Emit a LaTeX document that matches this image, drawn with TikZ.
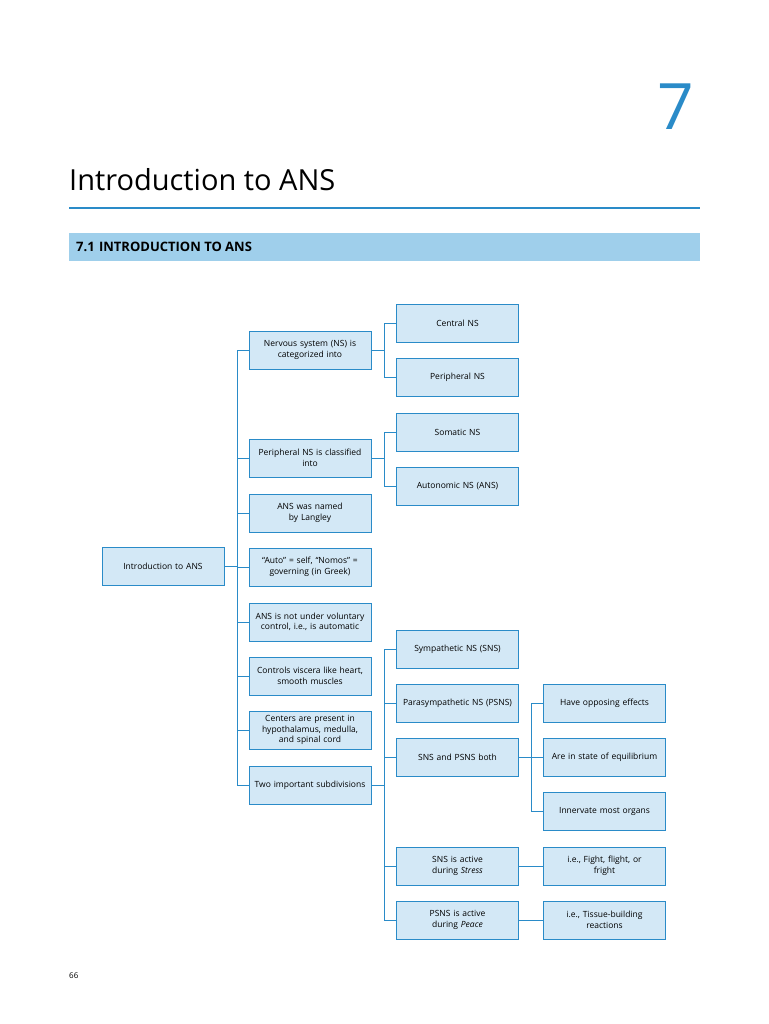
\documentclass[tikz,border=0pt]{standalone}
\usepackage{fontspec}
\setmainfont{Open Sans}
\begin{document}
\begin{tikzpicture}[x=1pt,y=-1pt,
  bx/.style={draw=bbord,fill=bfill,line width=0.8pt,minimum width=122pt,minimum height=38pt,inner sep=2pt,align=center,font=\fontsize{8.5}{10.5}\selectfont,text width=116pt},
  ln/.style={draw=bbord,line width=0.8pt}]
\definecolor{bfill}{HTML}{D3E8F6}
\definecolor{bbord}{HTML}{2A8BC8}
\definecolor{band}{HTML}{9FCFEB}
\useasboundingbox (0,0) rectangle (768,1024);
\node[anchor=base east,text=bbord,font=\fontsize{64}{64}\selectfont] (seven) at (698,130) {7};
\node[anchor=base west,inner sep=0,font=\fontsize{29}{29}\selectfont] (title) at (69,191) {Introduction to ANS};
\draw[bbord,line width=1.5pt] (69,208) -- (700,208);
\fill[band] (69,233) rectangle (700,261);
\node[anchor=west,inner sep=0,font=\bfseries\fontsize{13}{13}\selectfont] (sec) at (76,247) {7.1\,\,INTRODUCTION TO ANS};
\node[anchor=base west,inner sep=0,font=\fontsize{8}{8}\selectfont] (pg) at (69,978) {66};

\node[bx] (root) at (163,566) {Introduction to ANS};
\node[bx] (a1) at (310,350) {Nervous system (NS) is\\categorized into};
\node[bx] (a2) at (310,458) {Peripheral NS is classified\\into};
\node[bx] (a3) at (310,513) {ANS was named\\by Langley};
\node[bx] (a4) at (310,567) {“Auto” = self, “Nomos” =\\governing (in Greek)};
\node[bx] (a5) at (310,622) {ANS is not under voluntary\\control, i.e., is automatic};
\node[bx] (a6) at (310,676) {Controls viscera like heart,\\smooth muscles};
\node[bx] (a7) at (310,730) {Centers are present in\\hypothalamus, medulla,\\and spinal cord};
\node[bx] (a8) at (310,785) {Two important subdivisions};

\node[bx] (b1) at (457.5,323) {Central NS};
\node[bx] (b2) at (457.5,377) {Peripheral NS};
\node[bx] (b3) at (457.5,432) {Somatic NS};
\node[bx] (b4) at (457.5,486) {Autonomic NS (ANS)};
\node[bx] (b5) at (457.5,649) {Sympathetic NS (SNS)};
\node[bx] (b6) at (457.5,703) {Parasympathetic NS (PSNS)};
\node[bx] (b7) at (457.5,757) {SNS and PSNS both};
\node[bx] (b8) at (457.5,866) {SNS is active\\during \emph{Stress}};
\node[bx] (b9) at (457.5,920) {PSNS is active\\during \emph{Peace}};

\node[bx] (c1) at (604.5,703) {Have opposing effects};
\node[bx] (c2) at (604.5,757) {Are in state of equilibrium};
\node[bx] (c3) at (604.5,811) {Innervate most organs};
\node[bx] (c4) at (604.5,866) {i.e., Fight, flight, or\\fright};
\node[bx] (c5) at (604.5,920) {i.e., Tissue-building\\reactions};

\coordinate (t) at (237,0);
\draw[ln] (root.east) -- (root.east -| t);
\draw[ln] (a1.west -| t) -- (a8.west -| t);
\foreach \n in {a1,a2,a3,a4,a5,a6,a7,a8} \draw[ln] (\n.west -| t) -- (\n.west);
\coordinate (u) at (384,0);
\draw[ln] (a1.east) -- (a1.east -| u); \draw[ln] (b1.west -| u) -- (b2.west -| u);
\foreach \n in {b1,b2} \draw[ln] (\n.west -| u) -- (\n.west);
\draw[ln] (a2.east) -- (a2.east -| u); \draw[ln] (b3.west -| u) -- (b4.west -| u);
\foreach \n in {b3,b4} \draw[ln] (\n.west -| u) -- (\n.west);
\draw[ln] (a8.east) -- (a8.east -| u); \draw[ln] (b5.west -| u) -- (b9.west -| u);
\foreach \n in {b5,b6,b7,b8,b9} \draw[ln] (\n.west -| u) -- (\n.west);
\coordinate (v) at (531,0);
\draw[ln] (b7.east) -- (b7.east -| v); \draw[ln] (c1.west -| v) -- (c3.west -| v);
\foreach \n in {c1,c2,c3} \draw[ln] (\n.west -| v) -- (\n.west);
\draw[ln] (b8.east) -- (c4.west);
\draw[ln] (b9.east) -- (c5.west);
\end{tikzpicture}
\end{document}
